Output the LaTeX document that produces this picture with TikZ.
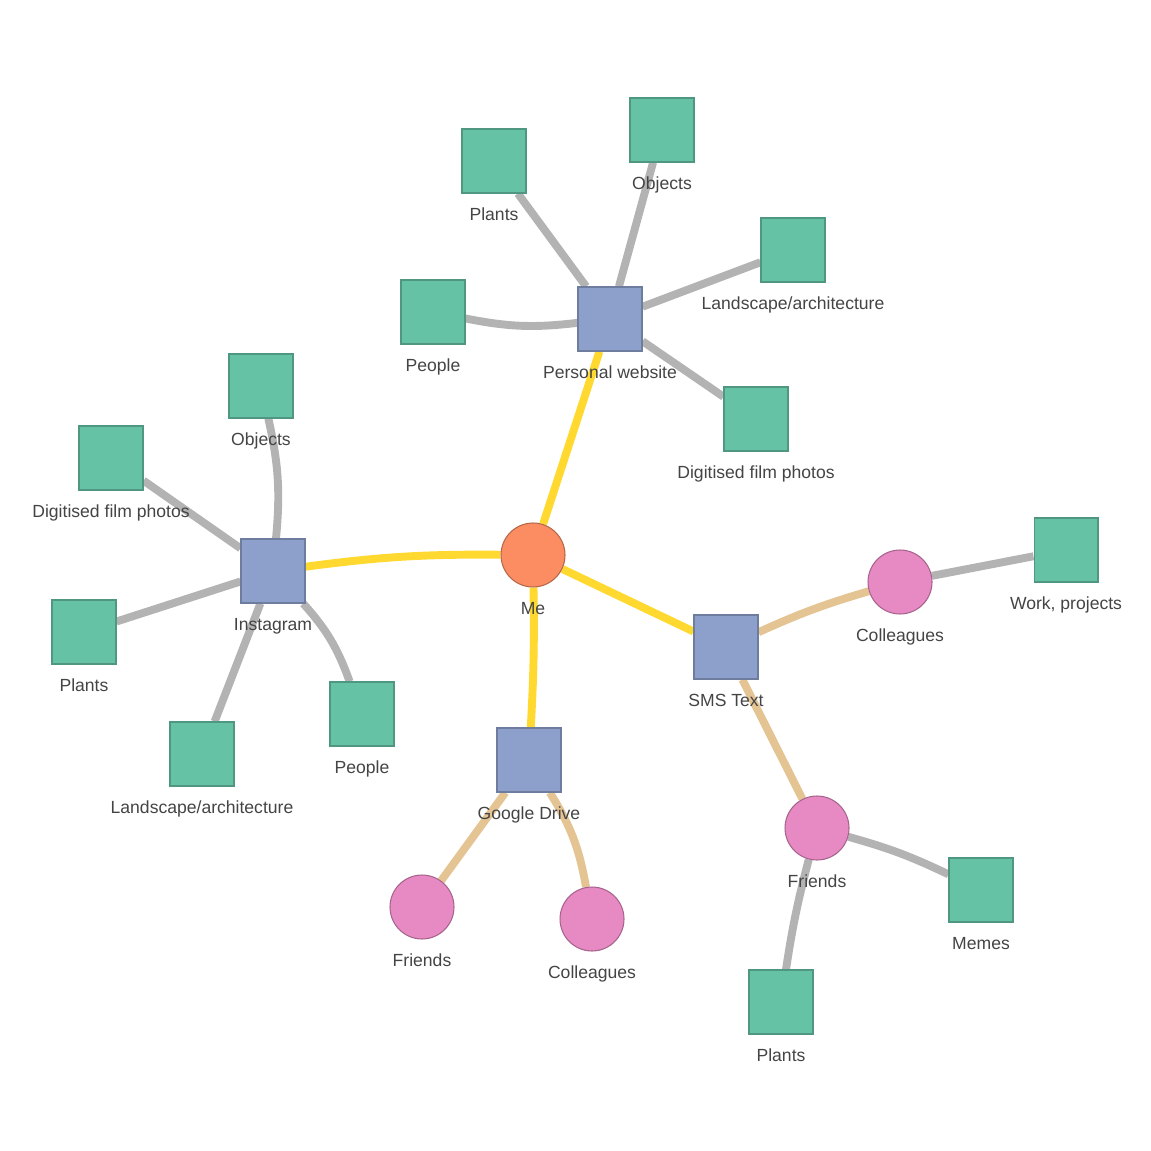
\documentclass[tikz,border=0pt]{standalone}
\usepackage{fontspec}
\setmainfont{Liberation Sans}
\usetikzlibrary{backgrounds}
\definecolor{leafc}{HTML}{66C2A5}
\definecolor{hubc}{HTML}{8DA0CB}
\definecolor{mec}{HTML}{FC8D62}
\definecolor{peerc}{HTML}{E78AC3}
\definecolor{mainc}{HTML}{FFD92F}
\definecolor{tiec}{HTML}{E5C494}
\definecolor{linkc}{HTML}{B3B3B3}
\definecolor{inkc}{HTML}{444444}
\tikzset{
  unit/.style={draw, line width=0.6pt, inner sep=0pt, minimum size=1.28cm},
  leaf/.style={unit, rectangle, fill=leafc, draw=leafc!78!black},
  hub/.style={unit, rectangle, fill=hubc, draw=hubc!78!black},
  me/.style={unit, circle, fill=mec, draw=mec!72!black},
  peer/.style={unit, circle, fill=peerc, draw=peerc!72!black},
  lbl/.style={font=\fontsize{10}{12}\selectfont, text=inkc, inner sep=0pt,
              text height=7pt, text depth=2pt},
  every label/.style={lbl},
  label distance=0.28cm,
  mainline/.style={draw=mainc, line width=4.5pt},
  tieline/.style={draw=tiec, line width=4.5pt},
  linkline/.style={draw=linkc, line width=4.5pt},
}
\begin{document}
\begin{tikzpicture}[x=0.02cm, y=-0.02cm]
  \useasboundingbox (0,0) rectangle (1151,1151);

  % centre and the four channels
  \node[me] (me) at (533,555) [label=below:Me] {};
  \node[hub] (web) at (610,319) [label=below:Personal website] {};
  \node[hub] (insta) at (273,571) [label=below:Instagram] {};
  \node[hub] (sms) at (726,647) [label=below:SMS Text] {};
  \node[hub] (drive) at (529,760) [label=below:Google Drive] {};

  % personal website
  \node[leaf] (webplants) at (494,161) [label=below:Plants] {};
  \node[leaf] (webobjects) at (662,130) [label=below:Objects] {};
  \node[leaf] (weblandsc) at (793,250) [label=below:Landscape/architecture] {};
  \node[leaf] (webpeople) at (433,312) [label=below:People] {};
  \node[leaf] (webfilm) at (756,419) [label=below:Digitised film photos] {};

  % instagram
  \node[leaf] (igobjects) at (261,386) [label=below:Objects] {};
  \node[leaf] (igfilm) at (111,458) [label=below:Digitised film photos] {};
  \node[leaf] (igplants) at (84,632) [label=below:Plants] {};
  \node[leaf] (iglandsc) at (202,754) [label=below:Landscape/architecture] {};
  \node[leaf] (igpeople) at (362,714) [label=below:People] {};

  % sms text
  \node[peer] (smscoll) at (900,582) [label=below:Colleagues] {};
  \node[peer] (smsfriends) at (817,828) [label=below:Friends] {};
  \node[leaf] (work) at (1066,550) [label={below:{Work, projects}}] {};
  \node[leaf] (memes) at (981,890) [label=below:Memes] {};
  \node[leaf] (smsplants) at (781,1002) [label=below:Plants] {};

  % google drive
  \node[peer] (drivefriends) at (422,907) [label=below:Friends] {};
  \node[peer] (drivecoll) at (592,919) [label=below:Colleagues] {};

  \begin{scope}[on background layer]
    \draw[mainline] (me) -- (web);
    \draw[mainline] (insta) to[bend left=4] (me);
    \draw[mainline] (me) -- (sms);
    \draw[mainline] (me) to[bend left=2] (drive);

    \draw[linkline] (web) -- (webplants);
    \draw[linkline] (web) -- (webobjects);
    \draw[linkline] (web) -- (weblandsc);
    \draw[linkline] (webpeople) to[bend right=9] (web);
    \draw[linkline] (web) -- (webfilm);

    \draw[linkline] (insta) to[bend right=9] (igobjects);
    \draw[linkline] (insta) -- (igfilm);
    \draw[linkline] (insta) -- (igplants);
    \draw[linkline] (insta) -- (iglandsc);
    \draw[linkline] (insta) to[bend left=11] (igpeople);

    \draw[tieline] (sms) to[bend left=4] (smscoll);
    \draw[tieline] (sms) -- (smsfriends);
    \draw[linkline] (smscoll) -- (work);
    \draw[linkline] (smsfriends) to[bend left=5] (memes);
    \draw[linkline] (smsfriends) to[bend right=3] (smsplants);

    \draw[tieline] (drive) -- (drivefriends);
    \draw[tieline] (drive) to[bend left=11] (drivecoll);
  \end{scope}
\end{tikzpicture}
\end{document}
